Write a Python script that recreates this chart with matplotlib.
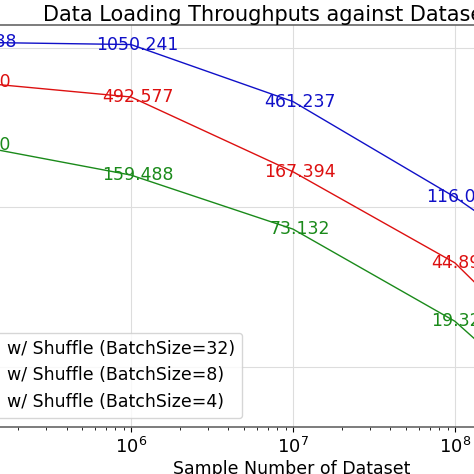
import matplotlib
matplotlib.use("Agg")
import matplotlib.pyplot as plt

# sample number of dataset
sizes = [1e5, 1e6, 1e7, 1e8, 1e9]
# throughputs per batch size (first and last points partly cropped in the reference)
bs32 = [1085.388, 1050.241, 461.237, 116.052, 23.0]
bs8 = [613.0, 492.577, 167.394, 44.892, 4.5]
bs4 = [248.0, 159.488, 73.132, 19.322, 2.4]
series = [
    ("w/ Shuffle (BatchSize=32)", bs32, "#1010c8"),
    ("w/ Shuffle (BatchSize=8)", bs8, "#dd1010"),
    ("w/ Shuffle (BatchSize=4)", bs4, "#1a8a1a"),
]

fig = plt.figure(figsize=(4.74, 4.74), dpi=100)
# axes extends beyond the figure, as in the cropped reference
ax = fig.add_axes([-0.0985, 0.0992, 1.427, 0.848])

for label, vals, col in series:
    ax.plot(sizes, vals, color=col, linewidth=1, label=label)
    for x, y in zip(sizes, vals):
        ax.text(x * 1.1, y, f"{y:.3f}", color=col, fontsize=12.5, ha="center", va="center")

ax.set_xscale("log")
ax.set_yscale("log")
ax.set_xlim(8e4, 1.2e9)
ax.set_ylim(4.2, 1392)
ax.grid(True, which="major", color="#dddddd", linewidth=0.8)
ax.tick_params(labelsize=13)
for s in ax.spines.values():
    s.set_color("#666666")
    s.set_linewidth(1.2)
ax.set_xlabel("Sample Number of Dataset", fontsize=12.5, labelpad=2)
ax.set_title("Data Loading Throughputs against Dataset Size", fontsize=15, pad=3)

fig.legend(loc="lower right", bbox_to_anchor=(242 / 474, 56 / 474),
           bbox_transform=fig.transFigure, fontsize=12.5, handlelength=2.5,
           borderaxespad=0, framealpha=0.8)

fig.savefig("out.png", dpi=100)
